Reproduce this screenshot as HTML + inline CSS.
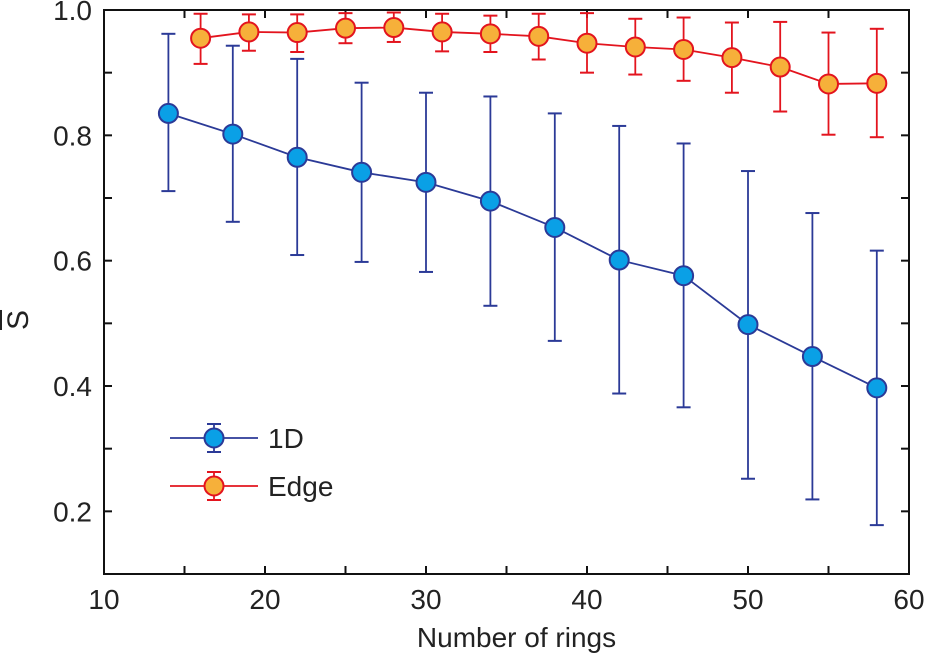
<!DOCTYPE html>
<html><head><meta charset="utf-8"><style>
body{margin:0;background:#fff}
svg{display:block;font-family:"Liberation Sans",Arial,sans-serif}
</style></head><body>
<svg width="925" height="655">
<g id="axes"></g><g id="series"></g><g id="legend"></g>
</svg>
<script>
const xs1D=[14,18,22,26,30,34,38,42,46,50,54,58];
const mean1D=[0.835,0.802,0.765,0.741,0.725,0.695,0.653,0.601,0.576,0.498,0.447,0.397];
const up1D=[0.962,0.943,0.922,0.884,0.868,0.862,0.835,0.815,0.787,0.743,0.676,0.616];
const lo1D=[0.711,0.662,0.609,0.598,0.582,0.528,0.472,0.388,0.366,0.252,0.219,0.178];
const xsEdge=[16,19,22,25,28,31,34,37,40,43,46,49,52,55,58];
const meanEdge=[0.955,0.965,0.964,0.971,0.972,0.965,0.962,0.958,0.947,0.941,0.937,0.924,0.909,0.882,0.883];
const upEdge=[0.994,0.993,0.993,0.995,0.996,0.994,0.991,0.994,0.995,0.986,0.988,0.980,0.981,0.964,0.970];
const loEdge=[0.914,0.935,0.933,0.947,0.949,0.934,0.933,0.921,0.900,0.897,0.887,0.868,0.838,0.801,0.797];
const xTicks=[10,20,30,40,50,60];
const yTicks=[0.2,0.4,0.6,0.8,1.0];
const yTickLabels=["0.2","0.4","0.6","0.8","1.0"];

const L=104,R=909,T=10,B=574,X0=10,X1=60,Y0=0.1,Y1=1.0;
const sx=v=>L+(v-X0)/(X1-X0)*(R-L);
const sy=v=>B-(v-Y0)/(Y1-Y0)*(B-T);
const NS='http://www.w3.org/2000/svg';
function mk(tag,attrs,parent){const e=document.createElementNS(NS,tag);for(const k in attrs)e.setAttribute(k,attrs[k]);parent.appendChild(e);return e;}
const ax=document.getElementById('axes'),se=document.getElementById('series'),lg=document.getElementById('legend');
const FS=28;
let f=mk('rect',{x:L,y:T,width:R-L,height:B-T,fill:'none',stroke:'#111','stroke-width':2},ax);


for(let v=10;v<=60;v+=5){const x=sx(v);
 mk('line',{x1:x,x2:x,y1:B,y2:B-8,stroke:'#111','stroke-width':2},ax);
 mk('line',{x1:x,x2:x,y1:T,y2:T+8,stroke:'#111','stroke-width':2},ax);}
for(let i=1;i<=9;i++){const y=sy(i/10);
 mk('line',{x1:L,x2:L+8,y1:y,y2:y,stroke:'#111','stroke-width':2},ax);
 mk('line',{x1:R,x2:R-8,y1:y,y2:y,stroke:'#111','stroke-width':2},ax);}
xTicks.forEach(v=>{const t=mk('text',{x:sx(v),y:609,'text-anchor':'middle','font-size':FS,fill:'#222'},ax);t.textContent=v;
 
 });
yTicks.forEach((v,i)=>{const t=mk('text',{x:92,y:sy(v)+10,'text-anchor':'end','font-size':FS,fill:'#222'},ax);t.textContent=yTickLabels[i];
 
 });
let xt=mk('text',{x:(L+R)/2+10,y:647,'text-anchor':'middle','font-size':FS,fill:'#222'},ax);xt.textContent='Number of rings';


let yt=mk('text',{x:0,y:0,'text-anchor':'middle','font-size':30,fill:'#222',transform:'translate(28,320) rotate(-90)','text-decoration':'overline'},ax);yt.textContent='S';



function series(name,xs,m,u,l,stroke,fill){
 const g=mk('g',{},se);
 
 
 xs.forEach((x,i)=>{const X=sx(x);
  mk('line',{x1:X,x2:X,y1:sy(u[i]),y2:sy(l[i]),stroke:stroke,'stroke-width':1.8},g);
  mk('line',{x1:X-7,x2:X+7,y1:sy(u[i]),y2:sy(u[i]),stroke:stroke,'stroke-width':2},g);
  mk('line',{x1:X-7,x2:X+7,y1:sy(l[i]),y2:sy(l[i]),stroke:stroke,'stroke-width':2},g);});
 mk('polyline',{points:xs.map((x,i)=>sx(x)+','+sy(m[i])).join(' '),fill:'none',stroke:stroke,'stroke-width':1.8},g);
 xs.forEach((x,i)=>{const c=mk('circle',{cx:sx(x),cy:sy(m[i]),r:9.5,fill:fill,stroke:stroke,'stroke-width':2},g);
  
  });
}
series('1d',xs1D,mean1D,up1D,lo1D,'#2b3a97','#0aa0e6');
series('edge',xsEdge,meanEdge,upEdge,loEdge,'#e3141e','#f6b03a');

function legendEntry(y,label,stroke,fill,nm){
 const g=mk('g',{},lg);
 
 
 mk('line',{x1:170,x2:258,y1:y,y2:y,stroke:stroke,'stroke-width':1.8},g);
 mk('line',{x1:214,x2:214,y1:y-14,y2:y+14,stroke:stroke,'stroke-width':1.8},g);
 mk('line',{x1:207,x2:221,y1:y-14,y2:y-14,stroke:stroke,'stroke-width':2},g);
 mk('line',{x1:207,x2:221,y1:y+14,y2:y+14,stroke:stroke,'stroke-width':2},g);
 mk('circle',{cx:214,cy:y,r:9.5,fill:fill,stroke:stroke,'stroke-width':2},g);
 const t=mk('text',{x:268,y:y+10,'font-size':FS,fill:'#222'},g);t.textContent=label;
}
legendEntry(438,'1D','#2b3a97','#0aa0e6','legend-entry-1d');
legendEntry(486,'Edge','#e3141e','#f6b03a','legend-entry-edge');
</script>
</body></html>
